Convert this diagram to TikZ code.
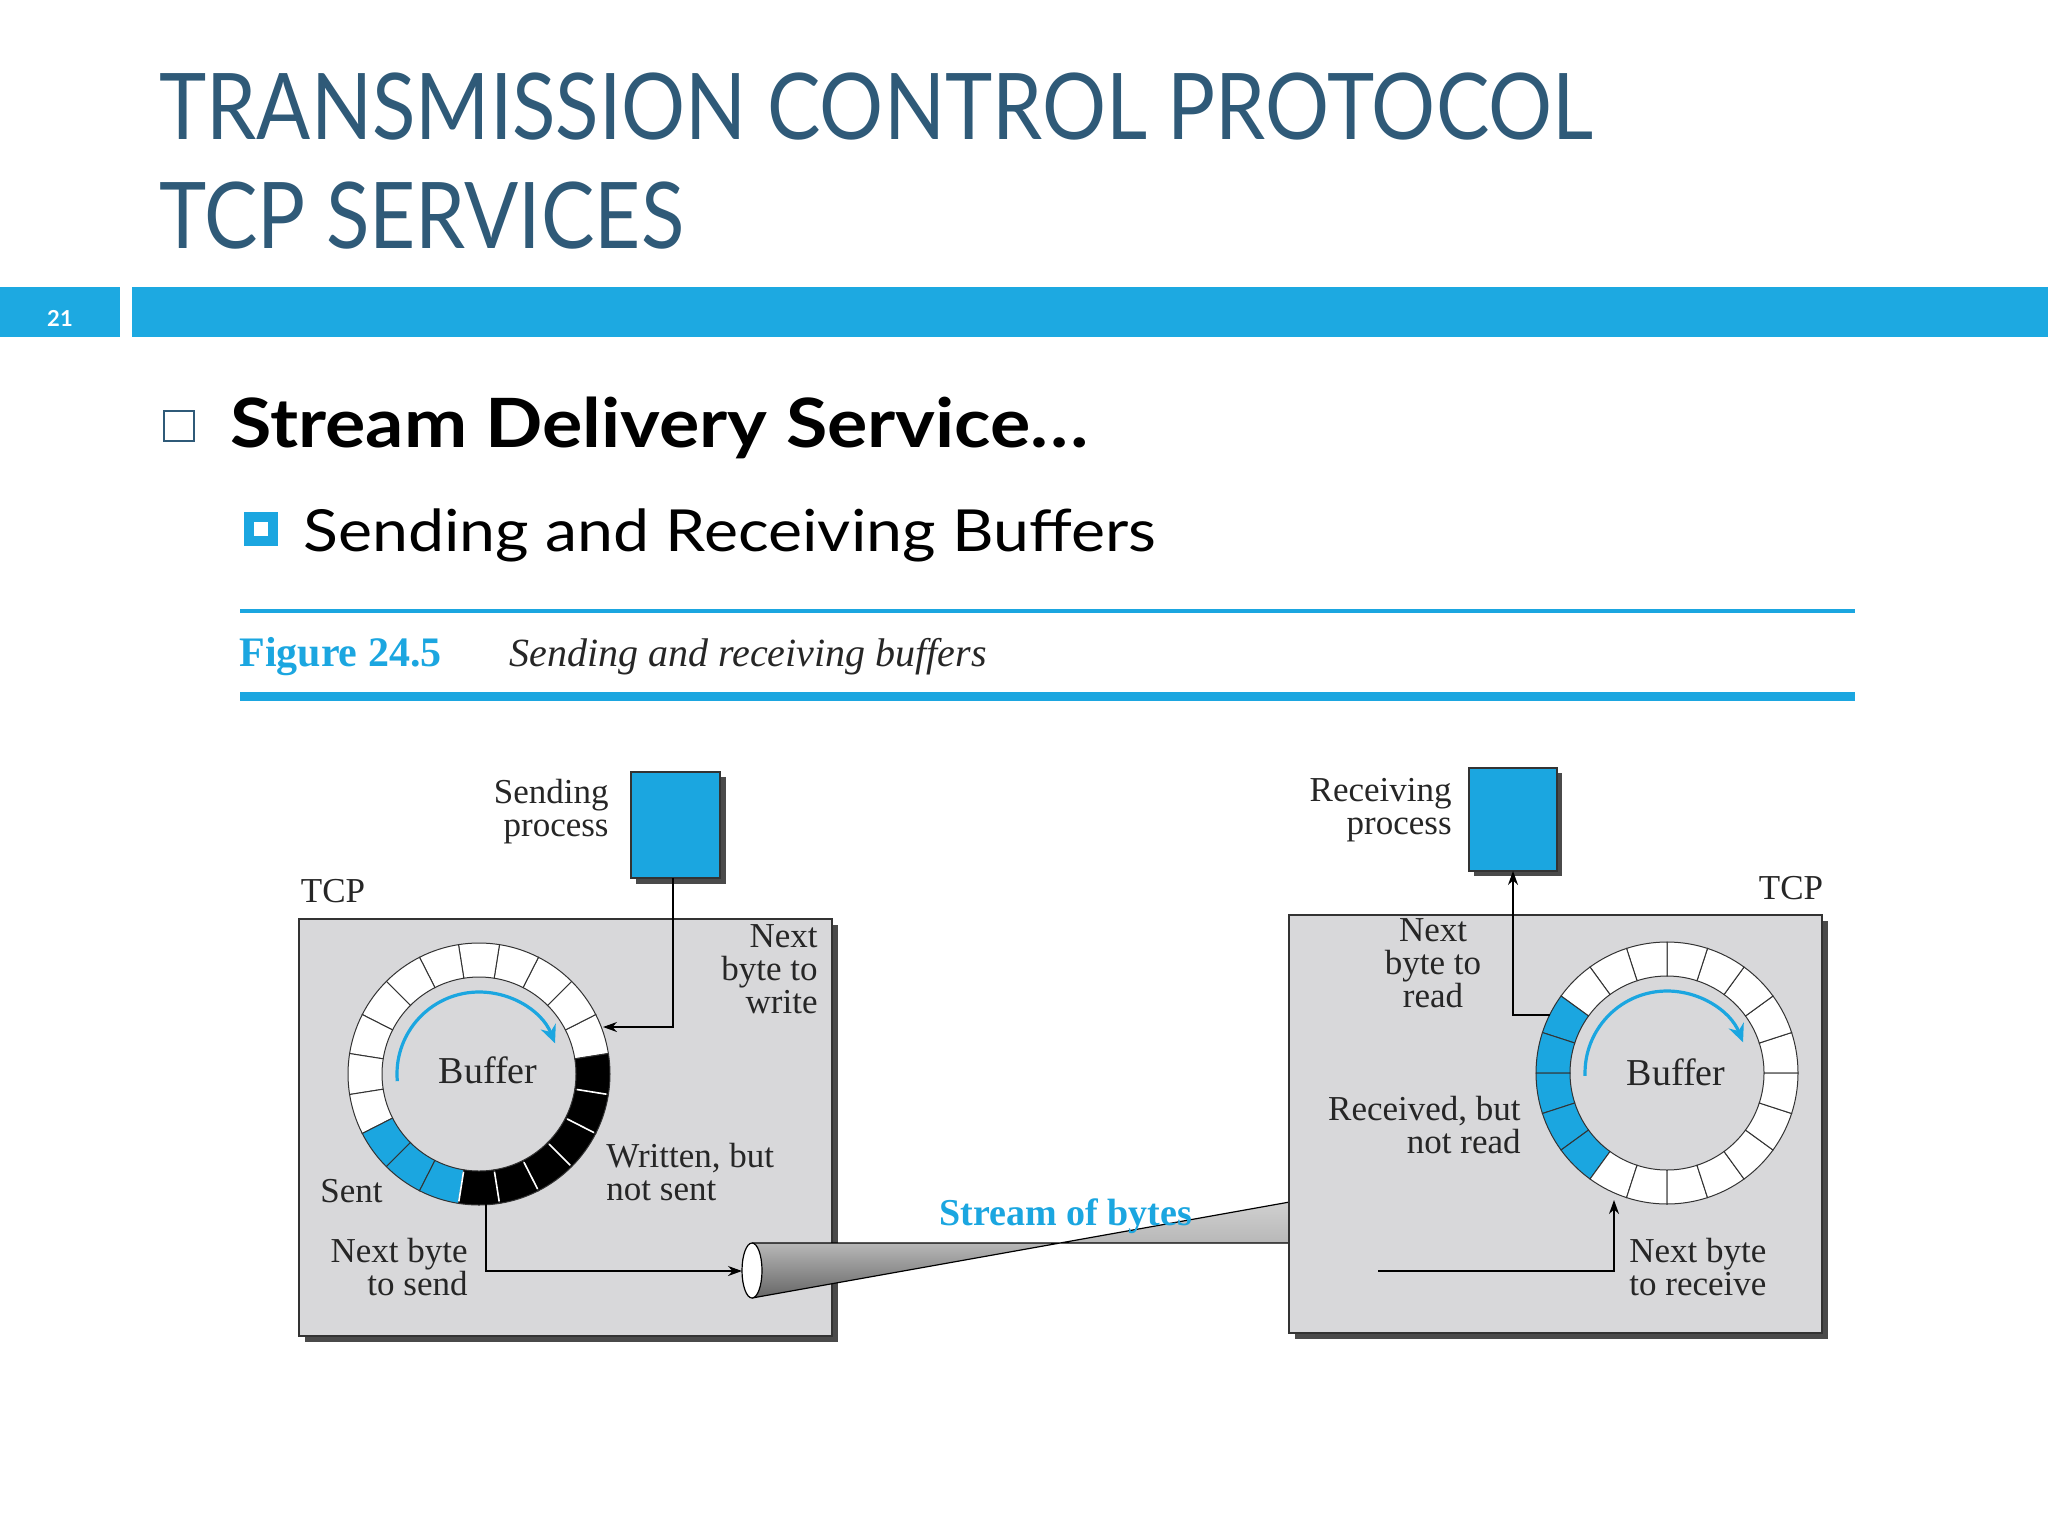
\documentclass[tikz,border=0pt]{standalone}
\usepackage{fontspec}
\setmainfont{Liberation Serif}
\newfontfamily\ttl{Lato}
\usetikzlibrary{arrows.meta,calc}
\definecolor{ttlc}{HTML}{2F5A78}
\definecolor{barb}{HTML}{1DA9E1}
\definecolor{cy}{HTML}{1BA6E0}
\definecolor{boxg}{HTML}{D8D8DA}
\definecolor{shd}{HTML}{4A4A4A}
\tikzset{
 lbl/.style={font=\fontsize{17.5}{16.5}\selectfont, align=#1, inner sep=0pt, text=black!85},
 lbl/.default=center,
 tcpbox/.style={draw=black!80, fill=boxg, line width=0.6pt},
 proc/.style={draw=black!80, fill=cy, line width=0.6pt},
 con/.style={line width=0.7pt, -{Stealth[length=7pt,width=5pt]}},
 swirl/.style={cy, line width=1.6pt, -{Stealth[length=9pt,width=8pt]}},
}
\def\blackname{black}
\newcommand{\ringseg}[3]{%
 \foreach \k in {0,...,19}{%
  \pgfmathsetmacro{\aa}{#1+18*\k}\pgfmathsetmacro{\bb}{#1+18*\k+18}%
  \def\col{white}%
  \foreach \j in {#2}{\ifnum\j=\k\global\def\col{cy}\fi}%
  \foreach \j in {#3}{\ifnum\j=\k\global\def\col{black}\fi}%
  \filldraw[fill=\col, draw=black!80, line width=0.5pt] (\aa:131) arc(\aa:\bb:131) -- (\bb:97) arc(\bb:\aa:97) -- cycle;
  \ifx\col\blackname\draw[white,line width=0.8pt] (\aa:99)--(\aa:129);\fi
 }}
\begin{document}
\begin{tikzpicture}[x=0.5pt,y=-0.5pt]
\useasboundingbox (0,0) rectangle (2048,1536);
\fill[white] (0,0) rectangle (2048,1536);
% title
\node[anchor=base west, inner sep=0, text=ttlc, font=\ttl\fontsize{46}{46}\selectfont] (t1) at (159,140) {\scalebox{0.87}[1]{TRANSMISSION CONTROL PROTOCOL}};
\node[anchor=base west, inner sep=0, text=ttlc, font=\ttl\fontsize{46}{46}\selectfont] (t2) at (159,248) {\scalebox{0.87}[1]{TCP SERVICES}};
% bar
\fill[barb] (0,287) rectangle (120,337);
\fill[barb] (132,287) rectangle (2048,337);
\node[text=white, font=\ttl\bfseries\fontsize{11}{11}\selectfont] (pg) at (60,318) {21};
% bullets
\draw[ttlc, line width=1.3pt] (164,411) rectangle (194,441);
\node[anchor=base west, inner sep=0, font=\ttl\bfseries\fontsize{34}{34}\selectfont] (b1) at (230,447) {\scalebox{1.11}[1]{Stream Delivery Service…}};
\fill[cy] (244,512) rectangle (278,546);
\fill[white] (254,522) rectangle (268,536);
\node[anchor=base west, inner sep=0, font=\ttl\fontsize{29}{29}\selectfont] (b2) at (303,551) {\scalebox{1.11}[1]{Sending and Receiving Buffers}};
% figure caption
\draw[cy, line width=2pt] (240,611) -- (1855,611);
\draw[cy, line width=4.5pt] (240,696) -- (1855,696);
\node[anchor=base west, inner sep=0, text=cy, font=\bfseries\fontsize{21}{21}\selectfont] (fg) at (239,666) {Figure 24.5};
\node[anchor=base west, inner sep=0, font=\itshape\fontsize{20}{20}\selectfont, text=black!85] (fc) at (509,666) {Sending and receiving buffers};
% left box
\fill[shd] (305,925) rectangle (838,1342);
\draw[tcpbox] (299,919) rectangle (832,1336);
\node[lbl] (tcpl) at (333,891) {TCP};
\fill[shd] (636,777) rectangle (726,884);
\draw[proc] (631,772) rectangle (720,878);
\coordinate (spb) at (673,878);
\node[lbl=right, anchor=east] (spl) at (609,812) {Sending\\process};
\node[lbl=right, anchor=north east] (nbw) at (818,924) {Next\\byte to\\write};
\begin{scope}[shift={(479,1074)},yscale=-1]
 \ringseg{9}{11,12,13}{14,15,16,17,18,19}
 \draw[swirl] (185:82) arc(185:22:82);
\end{scope}
\node[lbl, font=\fontsize{19}{19}\selectfont] (bufl) at (488,1070) {Buffer};
\coordinate (lw) at (603,1027);
\draw[con] (spb) |- (lw);
\node[lbl, anchor=base west] (sent) at (320,1202) {Sent};
\node[lbl=left, anchor=north west] (wbn) at (606,1143) {Written, but\\not sent};
\node[lbl=right, anchor=north east] (nbs) at (468,1238) {Next byte\\to send};
\coordinate (lb) at (486,1204);
% pipe
\shade[top color=black!15, bottom color=black!60, middle color=black!28] (752,1243) -- (1368,1243) arc(90:-90:10 and 27.5) -- (752,1298) -- cycle;
\draw[line width=0.6pt] (752,1243) -- (1368,1243) arc(90:-90:10 and 27.5) -- (752,1298);
\filldraw[fill=white, line width=0.6pt] (752,1270.5) ellipse (10 and 27.5);
\coordinate (pL) at (742,1271);
\coordinate (pR) at (1378,1271);
\draw[con] (lb) |- (pL);
\node[text=cy, font=\bfseries\fontsize{19}{19}\selectfont] (sob) at (1066,1216) {Stream of bytes};
% right box
\fill[shd] (1295,921) rectangle (1828,1339);
\draw[tcpbox] (1289,915) rectangle (1822,1333);
\node[lbl] (tcpr) at (1791,888) {TCP};
\fill[shd] (1474,773) rectangle (1562,876);
\draw[proc] (1469,768) rectangle (1557,871);
\coordinate (rpb) at (1513,871);
\node[lbl=right, anchor=east] (rpl) at (1452,810) {Receiving\\process};
\node[lbl, anchor=north] (nbr) at (1433,918) {Next\\byte to\\read};
\begin{scope}[shift={(1667,1073)},yscale=-1]
 \ringseg{0}{8,9,10,11,12}{}
 \draw[swirl] (182:82) arc(182:22:82);
\end{scope}
\node[lbl, font=\fontsize{19}{19}\selectfont] (bufr) at (1676,1072) {Buffer};
\coordinate (rr) at (1550,1015);
\draw[con] (rr) -| (rpb);
\node[lbl=right, anchor=north east] (rbn) at (1521,1096) {Received, but\\not read};
\node[lbl=left, anchor=north west] (nbrc) at (1629,1238) {Next byte\\to receive};
\coordinate (rb) at (1614,1200);
\draw[con] (pR) -| (rb);
\end{tikzpicture}
\end{document}
